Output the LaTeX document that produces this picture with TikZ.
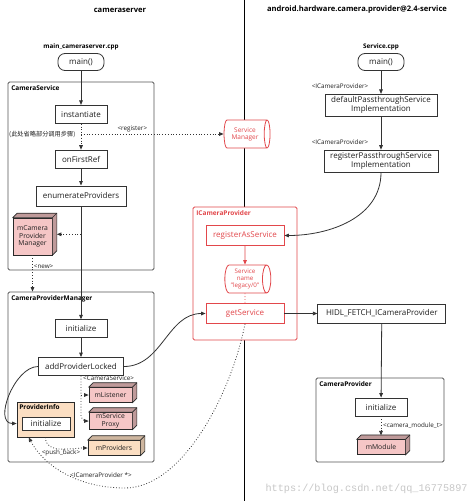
\documentclass[tikz,border=0pt]{standalone}
\usepackage{fontspec}
\setmainfont{Open Sans}
\newfontfamily\cjkfont{Noto Sans CJK SC}
\newfontfamily\markfont{Liberation Mono}
\usetikzlibrary{arrows.meta}
\usetikzlibrary{shapes.geometric}
\usetikzlibrary{positioning}
\definecolor{HalRed}{HTML}{E2474B}
\definecolor{LineGrey}{HTML}{333333}
\definecolor{FrameGrey}{HTML}{555555}
\definecolor{ObjPink}{HTML}{F5C6C6}
\definecolor{ObjBeige}{HTML}{FBDEC2}
\colorlet{ColourText}{black!88}
\colorlet{ObjPinkSide}{ObjPink!78!black}
\colorlet{ObjBeigeSide}{ObjBeige!82!black}
\tikzset{
  diagram style/.style={
    x=1pt, y=-1pt,
    >={Triangle[length=4.5pt,width=3.6pt]},
    font=\fontsize{8}{9}\selectfont,
    text=ColourText,
  },
  heading/.style={
    font=\bfseries\fontsize{7.6}{9}\selectfont,
    text=black,
  },
  file label/.style={
    font=\bfseries\fontsize{6.3}{7}\selectfont,
    text=black,
    inner sep=1pt,
  },
  fn box/.style={
    draw=LineGrey,
    fill=white,
    line width=0.8pt,
    inner sep=1pt,
    minimum width=52pt,
    minimum height=18pt,
    align=center,
  },
  main box/.style={
    fn box,
    rounded corners=7pt,
    minimum width=46pt,
    minimum height=17pt,
  },
  red box/.style={
    fn box,
    draw=HalRed,
    text=HalRed,
    minimum width=78pt,
    minimum height=20pt,
  },
  frame/.style={
    draw=FrameGrey,
    line width=0.8pt,
    rounded corners=1.5pt,
  },
  red frame/.style={
    frame,
    draw=HalRed,
    fill=white,
  },
  frame title/.style={
    anchor=north west,
    font=\bfseries\fontsize{6.5}{7.5}\selectfont,
    text=black,
    inner sep=3.5pt,
  },
  store/.style={
    cylinder,
    draw=HalRed,
    fill=white,
    text=HalRed,
    line width=0.8pt,
    aspect=0.4,
    shape border rotate=0,
    minimum width=28pt,
    minimum height=46pt,
    inner sep=0.5pt,
    align=center,
    font=\fontsize{6.5}{7.2}\selectfont,
  },
  obj/.style={
    draw=LineGrey!80!black,
    fill=#1,
    line width=0.7pt,
    inner sep=0.5pt,
    align=center,
    font=\fontsize{6.8}{7.5}\selectfont,
  },
  obj side/.style={
    draw=LineGrey!80!black,
    fill=#1,
    line width=0.7pt,
    line join=round,
  },
  lbl/.style={
    font=\fontsize{6.3}{7}\selectfont,
    inner sep=1pt,
  },
  link/.style={
    draw=LineGrey,
    line width=0.8pt,
    ->,
  },
  dot link/.style={
    link,
    dotted,
  },
  divider/.style={
    draw=black,
    line width=1pt,
  },
}
% top and right faces of a block
\newcommand\objfaces[2]{%
  \draw[obj side=#2] (#1.north west) -- ++(4.5pt,4.5pt)
    -- ([shift={(4.5pt,4.5pt)}]#1.north east)
    -- ([shift={(4.5pt,4.5pt)}]#1.south east)
    -- (#1.south east) -- (#1.north east) -- cycle;
  \draw[obj side=#2, fill=none] (#1.north east) -- ++(4.5pt,4.5pt);
}
\begin{document}
\begin{tikzpicture}[diagram style]
  \fill[white] (0,0) rectangle (474,501);
  \useasboundingbox (0,0) rectangle (474,501);

  \node[heading] (csHead) at (120,10) {cameraserver};
  \node[heading] (hwHead) at (357,10) {android.hardware.camera.provider@2.4-service};
  \coordinate (divTop) at (244,0);
  \coordinate (divBot) at (244,501);
  \draw[divider] (divTop) -- (divBot);

  % frames
  \node[frame, minimum width=146pt, minimum height=188pt] (csFrame) at (81,176) {};
  \node[frame title] (csName) at (csFrame.north west) {CameraService};
  \node[frame, minimum width=146pt, minimum height=170pt] (cpmFrame) at (81,377) {};
  \node[frame title] (cpmName) at (cpmFrame.north west) {CameraProviderManager};
  \node[red frame, minimum width=104pt, minimum height=133pt] (icpFrame) at (245,273.5) {};
  \node[frame title, text=HalRed] (icpName) at (icpFrame.north west) {ICameraProvider};
  \node[frame, minimum width=128pt, minimum height=84pt] (cpFrame) at (380,420) {};
  \node[frame title] (cpName) at (cpFrame.north west) {CameraProvider};

  % cameraserver
  \node[main box] (mainL) at (81,62) {main()};
  \node[file label, above=2pt of mainL] (mainLFile) {main\_cameraserver.cpp};
  \node[fn box, below=34pt of mainL] (inst) {instantiate};
  \node[fn box, below=26pt of inst] (onFirst) {onFirstRef};
  \node[fn box, minimum width=90pt, minimum height=20pt, below=17pt of onFirst] (enumP) {enumerateProviders};
  \node[lbl, anchor=west, font=\cjkfont\fontsize{6.2}{7}\selectfont] (omitNote) at (8,134) {(此处省略部分调用步骤)};
  \node[obj=ObjPink, minimum width=39pt, minimum height=37pt] (mcpm) at (32.5,236.5) {mCamera\\Provider\\Manager};
  \objfaces{mcpm}{ObjPinkSide}
  \coordinate (mcpmSide) at ([shift={(4.5pt,2.2pt)}]mcpm.east);

  \node[fn box, below=113pt of enumP] (initCPM) {initialize};
  \node[fn box, minimum width=85pt, below=19pt of initCPM] (addPL) {addProviderLocked};
  \node[obj=ObjPink, minimum width=43pt, minimum height=15pt] (mListener) at (110.5,395) {mListener};
  \objfaces{mListener}{ObjPinkSide}
  \node[obj=ObjPink, minimum width=43pt, minimum height=17pt] (mProxy) at (110.5,421) {mService\\Proxy};
  \objfaces{mProxy}{ObjPinkSide}
  \node[obj=ObjBeige, minimum width=52pt, minimum height=15pt] (mProviders) at (114,448) {mProviders};
  \objfaces{mProviders}{ObjBeigeSide}
  \node[obj=ObjBeige, minimum width=57pt, minimum height=35pt] (provInfo) at (45.5,419.5) {};
  \node[frame title, inner sep=2.5pt] (provName) at (provInfo.north west) {ProviderInfo};
  \node[fn box, minimum width=48pt, minimum height=13pt] (piInit) at (46,423.5) {initialize};

  % provider service
  \node[main box] (mainR) at (381,62) {main()};
  \node[file label, above=2pt of mainR] (mainRFile) {Service.cpp};
  \node[fn box, minimum width=112pt, minimum height=22pt, below=23pt of mainR] (dps) {defaultPassthroughService\\Implementation};
  \node[fn box, minimum width=114pt, minimum height=22pt, below=33pt of dps] (rps) {registerPassthroughService\\Implementation};
  \node[lbl] (dpsType) at (340,86) {<ICameraProvider>};
  \node[lbl] (rpsType) at (340,142) {<ICameraProvider>};

  \node[store] (sm) at (245,134) {Service\\Manager};
  \node[red box] (ras) at (245,235.5) {registerAsService};
  \node[store, font=\fontsize{6.2}{6.9}\selectfont] (nameStore) at (245,279) {Service\\name\\"legacy/0"};
  \node[red box] (gs) at (245,313.5) {getService};
  \node[fn box, minimum width=128pt, minimum height=19pt, right=33pt of gs] (hidl) {HIDL\_FETCH\_ICameraProvider};
  \node[fn box] (initCP) at (381,407) {initialize};
  \node[obj=ObjPink, minimum width=48pt, minimum height=15pt, below=23pt of initCP] (mModule) {mModule};
  \objfaces{mModule}{ObjPinkSide}

  % connectors
  \draw[link] (mainL) -- (inst);
  \draw[dot link] (inst) -- (onFirst);
  \draw[dot link] (inst.south |- omitNote) -- (sm.west)
    node[lbl, pos=0.36, above=1pt] (regLbl) {<register>};
  \draw[link] (onFirst) -- (enumP);
  \draw[link] (enumP) -- (initCPM);
  \draw[dot link] (enumP.south |- mcpmSide) -- (mcpmSide);
  \draw[dot link] (mcpm.south) -- (mcpm.south |- cpmFrame.north)
    node[lbl, pos=0.3, right] (newLbl) {<new>};
  \draw[link] (initCPM) -- (addPL);
  \draw[link] (addPL.east) to[out=0, in=180] (gs.west);
  \draw[link] (addPL.west) to[out=180, in=180] (provInfo.west |- piInit);
  \draw[dot link, rounded corners=5pt] (addPL.south) |- (mProxy.west);
  \draw[dot link] (addPL.south |- mListener.west) -- (mListener.west);
  \node[lbl, anchor=west] (csType) at (82,378) {<CameraService>};
  \draw[dot link] (provInfo.south) to[out=-90, in=180] (mProviders.west);
  \node[lbl] (pushLbl) at (61,453) {<push\_back>};
  \draw[dot link] (gs.south) .. controls (231,395) and (182,488) .. (125,488)
    .. controls (78,488) and (44,466) .. ([xshift=12pt]provInfo.south west);
  \node[lbl] (ptrLbl) at (101,475) {<ICameraProvider *>};

  \draw[link] (mainR) -- (dps);
  \draw[link] (dps) -- (rps);
  \draw[link] (rps.south) to[out=-90, in=0] (ras.east);
  \draw[link, draw=HalRed] (ras) -- (nameStore);
  \draw[draw=HalRed, line width=0.8pt, dotted] (nameStore) -- (gs);
  \draw[link] (gs) -- (hidl);
  \draw[link] (hidl) -- (initCP);
  \draw[dot link] (initCP) -- ([yshift=4pt]mModule.north);
  \node[lbl, anchor=west] (modType) at (382,426) {<camera\_module\_t>};

  \node[anchor=base west, text=black!22, font=\markfont\fontsize{10.2}{11}\selectfont] (wmark) at (262,491) {https://blog.csdn.net/qq\_16775897};
\end{tikzpicture}
\end{document}
